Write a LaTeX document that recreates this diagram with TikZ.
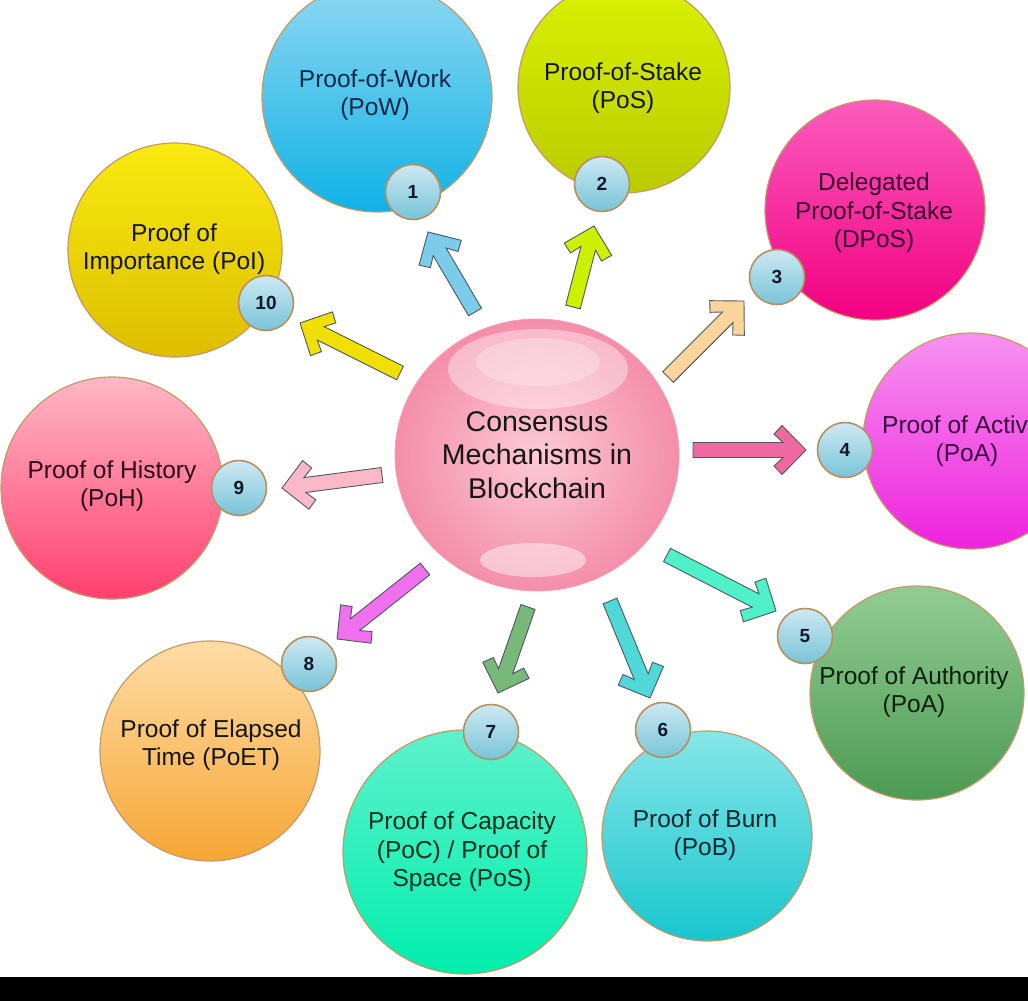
\documentclass[tikz,border=0pt]{standalone}
\usepackage{fontspec}
\setmainfont{Liberation Sans}
\usetikzlibrary{calc,shapes.geometric}

\definecolor{rimc}{HTML}{C49A68}
\definecolor{arrowrim}{HTML}{4E585E}
\definecolor{badgetop}{HTML}{CDE9F3}
\definecolor{badgebot}{HTML}{78C4D8}
\definecolor{badgerim}{HTML}{B89060}
\definecolor{badgetext}{HTML}{0E1A2C}
\definecolor{txt}{HTML}{161616}
% bubble gradients
\definecolor{c1t}{HTML}{8FD8F2}\definecolor{c1b}{HTML}{0FB2E6}
\definecolor{c2t}{HTML}{D9F200}\definecolor{c2b}{HTML}{BACB00}
\definecolor{c3t}{HTML}{FB5CBD}\definecolor{c3b}{HTML}{F20080}
\definecolor{c4t}{HTML}{F792F0}\definecolor{c4b}{HTML}{EE22DE}
\definecolor{c5t}{HTML}{92CC94}\definecolor{c5b}{HTML}{4C9A52}
\definecolor{c6t}{HTML}{86E6E8}\definecolor{c6b}{HTML}{18C6CE}
\definecolor{c7t}{HTML}{5EF2CC}\definecolor{c7b}{HTML}{00EEAC}
\definecolor{c8t}{HTML}{FFDCA6}\definecolor{c8b}{HTML}{F7A634}
\definecolor{c9t}{HTML}{FFB8C6}\definecolor{c9b}{HTML}{FF3F6E}
\definecolor{c10t}{HTML}{F9EA10}\definecolor{c10b}{HTML}{DDBE00}
\definecolor{hubin}{HTML}{FCCAD6}\definecolor{hubout}{HTML}{F48EA9}
\definecolor{hubrim}{HTML}{F5A0B4}
% text tints
\definecolor{tx1}{HTML}{10284A}\definecolor{tx3}{HTML}{3A0A30}
\definecolor{tx4}{HTML}{3A0A40}\definecolor{tx5}{HTML}{0A200A}
\definecolor{tx6}{HTML}{0A2830}\definecolor{tx7}{HTML}{00301E}
\definecolor{tx9}{HTML}{300818}
% arrow fills
\definecolor{a1}{HTML}{7ACCEA}\definecolor{a2}{HTML}{CCF000}
\definecolor{a3}{HTML}{FBD39C}\definecolor{a4}{HTML}{F068A0}
\definecolor{a5}{HTML}{50F0C8}\definecolor{a6}{HTML}{50D8D8}
\definecolor{a7}{HTML}{78B878}\definecolor{a8}{HTML}{F070F0}
\definecolor{a9}{HTML}{FBB8C8}\definecolor{a10}{HTML}{F0E000}

\newcommand\blockarrow[3]{%
  \path let \p1=($(#2)-(#1)$) in \pgfextra{%
    \pgfmathparse{atan2(\y1,\x1)}\xdef\arang{\pgfmathresult}%
    \pgfmathparse{veclen(\x1,\y1)}\xdef\arlen{\pgfmathresult}};
  \begin{scope}[shift={(#1)}, rotate=\arang, x=1pt, y=1pt]
    \filldraw[arrowline, fill=#3]
      (0,-7.5) -- (\arlen-23,-7.5) -- (\arlen-32,-16) -- (\arlen-24,-24.5)
      -- (\arlen,0) -- (\arlen-24,24.5) -- (\arlen-32,16) -- (\arlen-23,7.5)
      -- (0,7.5) -- cycle;
  \end{scope}}

\tikzset{
  bubble/.style={circle, inner sep=0pt, outer sep=0pt, draw=rimc, line width=1.2pt},
  badge/.style={circle, inner sep=0pt, minimum size=55pt, top color=badgetop,
    bottom color=badgebot, draw=badgerim, line width=1.6pt,
    font=\fontsize{19}{19}\selectfont\bfseries, text=badgetext},
  lbl/.style={align=center, inner sep=0pt, text=txt,
    font=\fontsize{24.5}{28.5}\selectfont},
  arrowline/.style={draw=arrowrim, line width=0.9pt, line join=miter},
}

\begin{document}
\begin{tikzpicture}[x=1pt, y=-1pt]
\useasboundingbox (0,0) rectangle (1028,1001);
\clip (0,0) rectangle (1028,1001);
\fill[white] (0,0) rectangle (1028,1001);

% outer circles
\node[bubble, minimum size=230pt, top color=c1t, bottom color=c1b] (c1) at (377,97) {};
\node[bubble, minimum size=212pt, top color=c2t, bottom color=c2b] (c2) at (624,87) {};
\node[bubble, minimum size=220pt, top color=c3t, bottom color=c3b] (c3) at (875,210) {};
\node[bubble, minimum size=216pt, top color=c4t, bottom color=c4b] (c4) at (971,441) {};
\node[bubble, minimum size=214pt, top color=c5t, bottom color=c5b] (c5) at (917,693) {};
\node[bubble, minimum size=210pt, top color=c6t, bottom color=c6b] (c6) at (707,836) {};
\node[bubble, minimum size=244pt, top color=c7t, bottom color=c7b] (c7) at (465,852) {};
\node[bubble, minimum size=220pt, top color=c8t, bottom color=c8b] (c8) at (210,751) {};
\node[bubble, minimum size=222pt, top color=c9t, bottom color=c9b] (c9) at (112,488) {};
\node[bubble, minimum size=214pt, top color=c10t, bottom color=c10b] (c10) at (175,250) {};

% labels
\node[lbl, text=tx1] (t1) at (375,95) {Proof-of-Work\\(PoW)};
\node[lbl] (t2) at (623,88) {Proof-of-Stake\\(PoS)};
\node[lbl, text=tx3] (t3) at (874,213) {Delegated\\Proof-of-Stake\\(DPoS)};
\node[lbl, text=tx4, align=left, anchor=west] (t4) at (882,441) {Proof of Activ\\\hspace*{53.5pt}(PoA)};
\node[lbl, text=tx5] (t5) at (914,692) {Proof of Authority\\(PoA)};
\node[lbl, text=tx6] (t6) at (705,835) {Proof of Burn\\(PoB)};
\node[lbl, text=tx7] (t7) at (462,852) {Proof of Capacity\\(PoC) / Proof of\\Space (PoS)};
\node[lbl] (t8) at (211,745) {Proof of Elapsed\\Time (PoET)};
\node[lbl, text=tx9] (t9) at (112,486) {Proof of History\\(PoH)};
\node[lbl] (t10) at (174,249) {Proof of\\Importance (PoI)};

% badges
\node[badge] (b1) at (413,192) {1};
\node[badge] (b2) at (602,184) {2};
\node[badge] (b3) at (777,277) {3};
\node[badge] (b4) at (845,450) {4};
\node[badge] (b5) at (805,636) {5};
\node[badge] (b6) at (663,730) {6};
\node[badge] (b7) at (491,732) {7};
\node[badge] (b8) at (309,664) {8};
\node[badge] (b9) at (239,488) {9};
\node[badge] (b10) at (266,303) {10};

% central hub
\node[ellipse, inner sep=0pt, minimum width=284pt, minimum height=272pt,
  inner color=hubin, outer color=hubout, draw=hubrim, line width=0.8pt] (hub) at (537,455) {};
\fill[white, fill opacity=0.38] (538,369) ellipse [x radius=90pt, y radius=40pt];
\fill[white, fill opacity=0.25] (538,362) ellipse [x radius=62pt, y radius=24pt];
\fill[white, fill opacity=0.45] (533,560) ellipse [x radius=53pt, y radius=17pt];
\node[align=center, inner sep=0pt, text=txt, font=\fontsize{28.5}{33.5}\selectfont] (ht) at (537,455) {Consensus\\Mechanisms in\\Blockchain};

% arrow endpoints
\coordinate (s1) at (475,312);  \coordinate (e1) at (428,232);
\coordinate (s2) at (573,307);  \coordinate (e2) at (594,226);
\coordinate (s3) at (668,377);  \coordinate (e3) at (744,301);
\coordinate (s4) at (693,450);  \coordinate (e4) at (806,450);
\coordinate (s5) at (667,555);  \coordinate (e5) at (776,611);
\coordinate (s6) at (610,601);  \coordinate (e6) at (650,698);
\coordinate (s7) at (528,607);  \coordinate (e7) at (498,693);
\coordinate (s8) at (425,569);  \coordinate (e8) at (337,639);
\coordinate (s9) at (382,475);  \coordinate (e9) at (282,488);
\coordinate (s10) at (400,373); \coordinate (e10) at (300,323);

\blockarrow{s1}{e1}{a1}
\blockarrow{s2}{e2}{a2}
\blockarrow{s3}{e3}{a3}
\blockarrow{s4}{e4}{a4}
\blockarrow{s5}{e5}{a5}
\blockarrow{s6}{e6}{a6}
\blockarrow{s7}{e7}{a7}
\blockarrow{s8}{e8}{a8}
\blockarrow{s9}{e9}{a9}
\blockarrow{s10}{e10}{a10}

% bottom black band
\fill[black] (0,977) rectangle (1028,1001);
\end{tikzpicture}
\end{document}
